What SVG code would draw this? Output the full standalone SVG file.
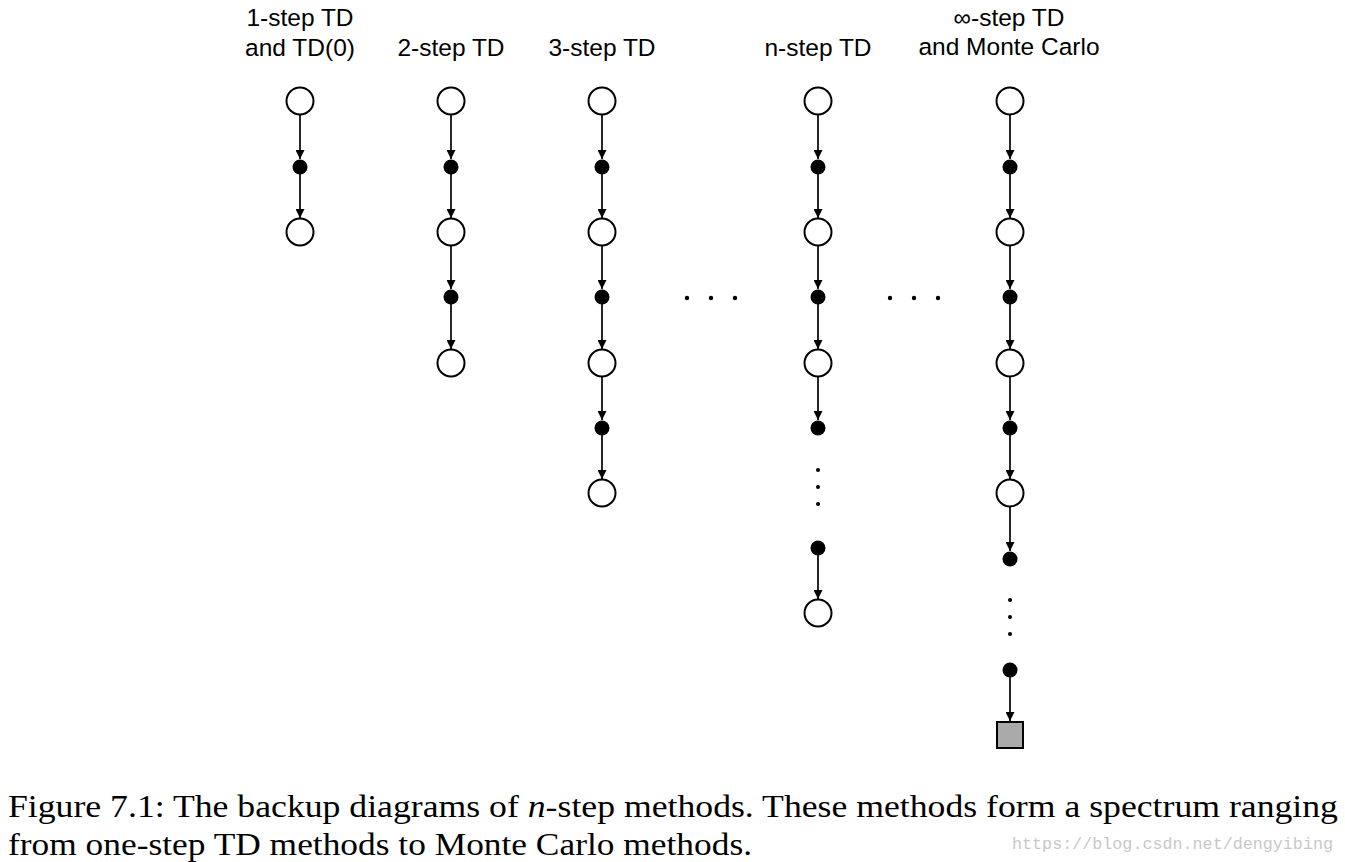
<svg xmlns="http://www.w3.org/2000/svg" width="1345" height="862" viewBox="0 0 1345 862">
<defs>
<marker id="ah" viewBox="0 0 10 10" refX="10" refY="5" markerWidth="10" markerHeight="9" markerUnits="userSpaceOnUse" orient="auto">
<path d="M0,0 L10,5 L0,10 Z" fill="#000"/>
</marker>
</defs>
<style>
.lbl{font-family:"Liberation Sans",Arial,sans-serif;font-size:24.5px;fill:#000;text-anchor:middle}
.st{fill:#fff;stroke:#000;stroke-width:2}
.ac{fill:#000}
.sd{fill:#000}
.term{fill:#aaa;stroke:#000;stroke-width:2}
.cn line{stroke:#000;stroke-width:1.7;marker-end:url(#ah)}
.cap{font-family:"Liberation Serif","Times New Roman",serif;font-size:31px;fill:#000}
.wm{font-family:"Liberation Mono","DejaVu Sans Mono",monospace;font-size:17px;fill:#c8c8c8}
</style>
<rect width="1345" height="862" fill="#fff"/>

<g id="labels">
<text class="lbl" x="300" y="26">1-step TD</text>
<text class="lbl" x="300" y="56">and TD(0)</text>
<text class="lbl" x="451" y="56">2-step TD</text>
<text class="lbl" x="602" y="56">3-step TD</text>
<text class="lbl" x="818" y="56">n-step TD</text>
<text class="lbl" x="1009" y="26">∞-step TD</text>
<text class="lbl" x="1009" y="55">and Monte Carlo</text>
</g>

<g id="connectors" class="cn">
<line x1="300" y1="115" x2="300" y2="159"/>
<line x1="300" y1="174" x2="300" y2="218"/>

<line x1="451" y1="115" x2="451" y2="159"/>
<line x1="451" y1="174" x2="451" y2="218"/>
<line x1="451" y1="246" x2="451" y2="289"/>
<line x1="451" y1="304" x2="451" y2="349"/>

<line x1="602" y1="115" x2="602" y2="159"/>
<line x1="602" y1="174" x2="602" y2="218"/>
<line x1="602" y1="246" x2="602" y2="289"/>
<line x1="602" y1="304" x2="602" y2="349"/>
<line x1="602" y1="377" x2="602" y2="420"/>
<line x1="602" y1="435" x2="602" y2="479"/>

<line x1="818" y1="115" x2="818" y2="159"/>
<line x1="818" y1="174" x2="818" y2="218"/>
<line x1="818" y1="246" x2="818" y2="289"/>
<line x1="818" y1="304" x2="818" y2="349"/>
<line x1="818" y1="377" x2="818" y2="420"/>
<line x1="818" y1="555" x2="818" y2="599"/>

<line x1="1010" y1="115" x2="1010" y2="159"/>
<line x1="1010" y1="174" x2="1010" y2="218"/>
<line x1="1010" y1="246" x2="1010" y2="289"/>
<line x1="1010" y1="304" x2="1010" y2="349"/>
<line x1="1010" y1="377" x2="1010" y2="420"/>
<line x1="1010" y1="435" x2="1010" y2="479"/>
<line x1="1010" y1="507" x2="1010" y2="551"/>
<line x1="1010" y1="677" x2="1010" y2="721"/>
</g>

<g id="col1">
<circle class="st" cx="300" cy="101" r="13.5"/>
<circle class="ac" cx="300" cy="167" r="7.5"/>
<circle class="st" cx="300" cy="232" r="13.5"/>
</g>

<g id="col2">
<circle class="st" cx="451" cy="101" r="13.5"/>
<circle class="ac" cx="451" cy="167" r="7.5"/>
<circle class="st" cx="451" cy="232" r="13.5"/>
<circle class="ac" cx="451" cy="297" r="7.5"/>
<circle class="st" cx="451" cy="363" r="13.5"/>
</g>

<g id="col3">
<circle class="st" cx="602" cy="101" r="13.5"/>
<circle class="ac" cx="602" cy="167" r="7.5"/>
<circle class="st" cx="602" cy="232" r="13.5"/>
<circle class="ac" cx="602" cy="297" r="7.5"/>
<circle class="st" cx="602" cy="363" r="13.5"/>
<circle class="ac" cx="602" cy="428" r="7.5"/>
<circle class="st" cx="602" cy="493" r="13.5"/>
</g>

<g id="hdots1">
<circle class="sd" cx="687" cy="298" r="2.2"/>
<circle class="sd" cx="711" cy="298" r="2.2"/>
<circle class="sd" cx="735" cy="298" r="2.2"/>
</g>

<g id="coln">
<circle class="st" cx="818" cy="101" r="13.5"/>
<circle class="ac" cx="818" cy="167" r="7.5"/>
<circle class="st" cx="818" cy="232" r="13.5"/>
<circle class="ac" cx="818" cy="297" r="7.5"/>
<circle class="st" cx="818" cy="363" r="13.5"/>
<circle class="ac" cx="818" cy="428" r="7.5"/>
<circle class="sd" cx="818" cy="470" r="2"/>
<circle class="sd" cx="818" cy="487" r="2"/>
<circle class="sd" cx="818" cy="504" r="2"/>
<circle class="ac" cx="818" cy="548" r="7.5"/>
<circle class="st" cx="818" cy="613" r="13.5"/>
</g>

<g id="hdots2">
<circle class="sd" cx="890" cy="298" r="2.2"/>
<circle class="sd" cx="914" cy="298" r="2.2"/>
<circle class="sd" cx="938" cy="298" r="2.2"/>
</g>

<g id="colinf">
<circle class="st" cx="1010" cy="101" r="13.5"/>
<circle class="ac" cx="1010" cy="167" r="7.5"/>
<circle class="st" cx="1010" cy="232" r="13.5"/>
<circle class="ac" cx="1010" cy="297" r="7.5"/>
<circle class="st" cx="1010" cy="363" r="13.5"/>
<circle class="ac" cx="1010" cy="428" r="7.5"/>
<circle class="st" cx="1010" cy="493" r="13.5"/>
<circle class="ac" cx="1010" cy="559" r="7.5"/>
<circle class="sd" cx="1010" cy="600" r="2"/>
<circle class="sd" cx="1010" cy="617" r="2"/>
<circle class="sd" cx="1010" cy="634" r="2"/>
<circle class="ac" cx="1010" cy="670" r="7.5"/>
<rect class="term" x="997" y="722" width="26" height="26"/>
</g>

<g id="caption">
<text class="cap" x="8" y="817" textLength="1330" lengthAdjust="spacingAndGlyphs">Figure 7.1: The backup diagrams of <tspan font-style="italic">n</tspan>-step methods. These methods form a spectrum ranging</text>
<text class="cap" x="8" y="855" textLength="744" lengthAdjust="spacingAndGlyphs">from one-step TD methods to Monte Carlo methods.</text>
<text class="wm" x="1012" y="849" textLength="321" lengthAdjust="spacingAndGlyphs">https://blog.csdn.net/dengyibing</text>
</g>
</svg>
